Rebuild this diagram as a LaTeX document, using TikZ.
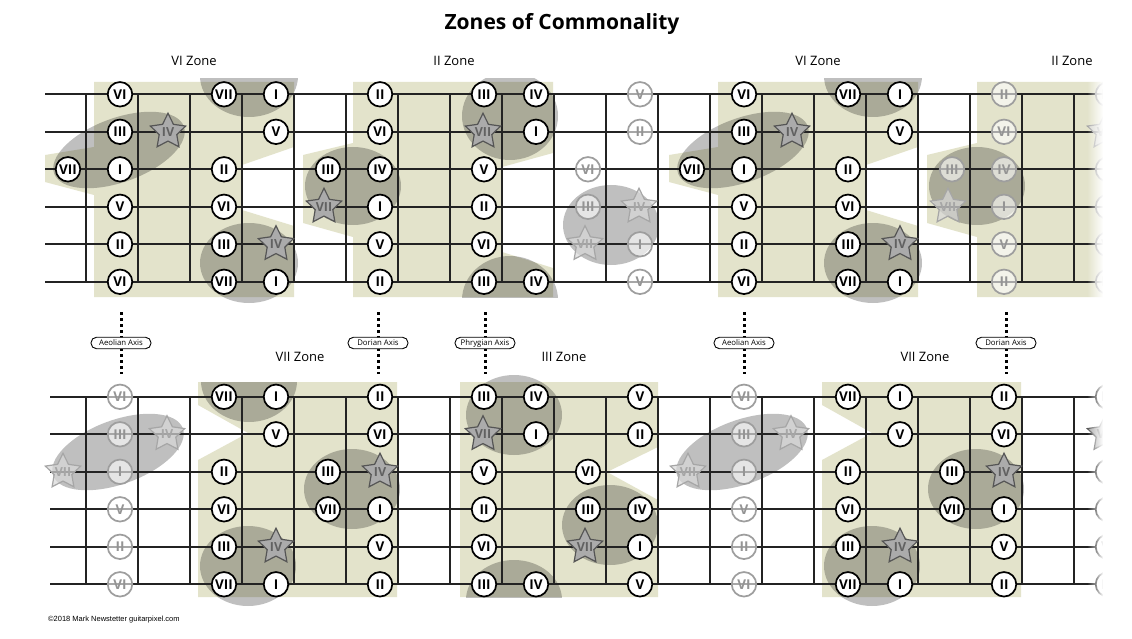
\documentclass[tikz,border=0pt]{standalone}
\usepackage{fontspec}
\setmainfont{Open Sans}
\newfontfamily\copyfont{Liberation Sans}
\usetikzlibrary{shapes.geometric}
\definecolor{zonebg}{HTML}{E3E3CB}
\definecolor{gridc}{HTML}{232323}
\definecolor{starfill}{HTML}{ABABAB}
\definecolor{staredge}{HTML}{555555}
\begin{document}
\begin{tikzpicture}[x=1pt,y=-1pt,
  nt/.style={circle,draw=black,line width=1.7pt,fill=white,minimum size=24.5pt,inner sep=0pt,
    font=\bfseries\fontsize{13.5}{13.5}\selectfont},
  ft/.style={nt,draw=black!38,text=black!42,fill opacity=0.6,text opacity=1,draw opacity=1},
  st/.style={star,star points=5,star point ratio=2.0,draw=staredge,line width=1.2pt,fill=starfill,minimum size=37pt,inner sep=0pt},
  fst/.style={st,draw=black!35,fill=black!15,fill opacity=0.7,draw opacity=1},
  stt/.style={inner sep=0pt,text=black!62,font=\bfseries\fontsize{12.5}{12.5}\selectfont},
  fstt/.style={stt,text=black!35},
  zone/.style={fill=zonebg},
  blob/.style={fill=black,fill opacity=0.25},
  grid/.style={draw=gridc,line width=1.7pt},
  zlabel/.style={font=\fontsize{13}{13}\selectfont},
  axisbox/.style={draw=black,rounded corners=5.5pt,fill=white,line width=0.9pt,minimum width=60pt,minimum height=11.5pt,inner sep=0.8pt,font=\fontsize{7.8}{7.8}\selectfont},
  axisline/.style={line width=3pt,dash pattern=on 3pt off 3pt}
]
\useasboundingbox (0,0) rectangle (1132,639);
\fill[white] (0,0) rectangle (1132,639);

% title and footer
\node (title) at (562,24) {\bfseries\fontsize{21}{21}\selectfont Zones of Commonality};
\node[anchor=west,inner sep=0pt] (copy) at (48,620) {\copyfont\fontsize{7.5}{7.5}\selectfont ©2018 Mark Newstetter guitarpixel.com};

% zones
\foreach \dx in {0,624}{
  \fill[zone,shift={(\dx,0)}] (94,82) -- (294,82) -- (294,147) -- (242,165) -- (242,210) -- (294,226) -- (294,297) -- (94,297) -- (94,195) -- (45,182) -- (45,155) -- (94,147) -- cycle;
  \fill[zone,shift={(\dx,0)}] (353,82) -- (553,82) -- (553,153) -- (502,167) -- (502,252) -- (553,268) -- (553,297) -- (353,297) -- (353,237) -- (303,223) -- (303,155) -- (353,143) -- cycle;
  \fill[zone,shift={(\dx,0)}] (198,382) -- (397,382) -- (397,597) -- (198,597) -- (198,460) -- (248,433) -- (198,405) -- cycle;
}
\fill[zone] (460,382) -- (658,382) -- (658,447) -- (607,472) -- (658,500) -- (658,597) -- (460,597) -- cycle;

% zone labels
\node[zlabel] (zl1) at (194,61) {VI Zone};
\node[zlabel] (zl2) at (454,61) {II Zone};
\node[zlabel] (zl3) at (818,61) {VI Zone};
\node[zlabel] (zl4) at (1072,61) {II Zone};
\node[zlabel] (zl5) at (300,357) {VII Zone};
\node[zlabel] (zl6) at (564,357) {III Zone};
\node[zlabel] (zl7) at (925,357) {VII Zone};

% grey blobs top
\begin{scope}
\clip (0,79) rectangle (1132,306);
\foreach \dx in {0,624}{
  \fill[blob,rotate around={20:({119+\dx},150)}] ({119+\dx},150) ellipse [x radius=69,y radius=32];
  \fill[blob] ({249+\dx},76) ellipse [x radius=49,y radius=41];
  \fill[blob] ({249+\dx},263) ellipse [x radius=49,y radius=40];
  \fill[blob] ({353+\dx},186) ellipse [x radius=48,y radius=39];
}
\fill[blob] (510,116) ellipse [x radius=48,y radius=44];
\fill[blob] (611,225) ellipse [x radius=48,y radius=40];
\end{scope}
\begin{scope}
\clip (0,79) rectangle (1132,297);
\fill[blob] (510,300) ellipse [x radius=48,y radius=44];
\end{scope}
% grey blobs bottom
\begin{scope}
\clip (0,370) rectangle (1132,612);
\foreach \dx in {0,624}{
  \fill[blob,rotate around={20:({118+\dx},452)}] ({118+\dx},452) ellipse [x radius=69,y radius=32];
  \fill[blob] ({248+\dx},566) ellipse [x radius=48,y radius=40];
  \fill[blob] ({352+\dx},489) ellipse [x radius=48,y radius=40];
}
\fill[blob] (514,415) ellipse [x radius=48,y radius=40];
\fill[blob] (610,525) ellipse [x radius=48,y radius=40];
\end{scope}
\begin{scope}
\clip (0,382) rectangle (1132,597);
\fill[blob] (249,381) ellipse [x radius=48,y radius=41];
\fill[blob] (514,600) ellipse [x radius=48,y radius=40];
\end{scope}

% strings and frets
\foreach \r in {0,...,5}{
  \draw[grid] (45,{94.3+37.5*\r}) -- (1110,{94.3+37.5*\r});
  \draw[grid] (50,{396.8+37.5*\r}) -- (1110,{396.8+37.5*\r});
}
\foreach \k in {0,...,19}{
  \draw[grid] ({86+52*\k},94.3) -- ({86+52*\k},281.8);
  \draw[grid] ({86+52*\k},396.8) -- ({86+52*\k},584.3);
}

% axes
\foreach \x/\lab/\n in {121/Aeolian Axis/axa,378/Dorian Axis/axb,485/Phrygian Axis/axc,744/Aeolian Axis/axd,1006/Dorian Axis/axe}{
  \coordinate (\n t) at (\x,312);
  \coordinate (\n b) at (\x,374);
  \draw[axisline] (\n t) -- (\n b);
  \node[axisbox] (\n) at (\x,343) {\lab};
}

% top circles
\foreach \c/\r/\t/\k in {0/2/VII/nt,
 1/0/VI/nt,1/1/III/nt,1/2/I/nt,1/3/V/nt,1/4/II/nt,1/5/VI/nt,
 3/0/VII/nt,3/2/II/nt,3/3/VI/nt,3/4/III/nt,3/5/VII/nt,
 4/0/I/nt,4/1/V/nt,4/5/I/nt,
 5/2/III/nt,
 6/0/II/nt,6/1/VI/nt,6/2/IV/nt,6/3/I/nt,6/4/V/nt,6/5/II/nt,
 8/0/III/nt,8/2/V/nt,8/3/II/nt,8/4/VI/nt,8/5/III/nt,
 9/0/IV/nt,9/1/I/nt,9/5/IV/nt,
 10/2/VI/ft,10/3/III/ft,
 11/0/V/ft,11/1/II/ft,11/4/I/ft,11/5/V/ft,
 12/2/VII/nt,
 13/0/VI/nt,13/1/III/nt,13/2/I/nt,13/3/V/nt,13/4/II/nt,13/5/VI/nt,
 15/0/VII/nt,15/2/II/nt,15/3/VI/nt,15/4/III/nt,15/5/VII/nt,
 16/0/I/nt,16/1/V/nt,16/5/I/nt,
 17/2/III/ft,
 18/0/II/ft,18/1/VI/ft,18/2/IV/ft,18/3/I/ft,18/4/V/ft,18/5/II/ft,
 20/0/III/ft,20/2/V/ft,20/3/II/ft,20/4/VI/ft,20/5/III/ft}{
  \node[\k] (t\c-\r) at ({68+52*\c},{94.3+37.5*\r}) {\t};
}
% top stars
\foreach \c/\r/\t/\d/\k/\kt in {2/1/IV/-4/st/stt,4/4/IV/0/st/stt,5/3/VII/-4/st/stt,8/1/VII/-1/st/stt,
 10/4/VII/-3/fst/fstt,11/3/IV/-1/fst/fstt,14/1/IV/-4/st/stt,16/4/IV/0/st/stt,17/3/VII/-4/fst/fstt,20/1/VII/-3/fst/fstt}{
  \node[\k] (ts\c-\r) at ({68+52*\c+\d},{94.3+37.5*\r}) {};
  \node[\kt] (tt\c-\r) at (ts\c-\r.center) {\t};
}

% bottom circles
\foreach \c/\r/\t/\k in {
 1/0/VI/ft,1/1/III/ft,1/2/I/ft,1/3/V/ft,1/4/II/ft,1/5/VI/ft,
 3/0/VII/nt,3/2/II/nt,3/3/VI/nt,3/4/III/nt,3/5/VII/nt,
 4/0/I/nt,4/1/V/nt,4/5/I/nt,
 5/2/III/nt,5/3/VII/nt,
 6/0/II/nt,6/1/VI/nt,6/3/I/nt,6/4/V/nt,6/5/II/nt,
 8/0/III/nt,8/2/V/nt,8/3/II/nt,8/4/VI/nt,8/5/III/nt,
 9/0/IV/nt,9/1/I/nt,9/5/IV/nt,
 10/2/VI/nt,10/3/III/nt,
 11/0/V/nt,11/1/II/nt,11/3/IV/nt,11/4/I/nt,11/5/V/nt,
 13/0/VI/ft,13/1/III/ft,13/2/I/ft,13/3/V/ft,13/4/II/ft,13/5/VI/ft,
 15/0/VII/nt,15/2/II/nt,15/3/VI/nt,15/4/III/nt,15/5/VII/nt,
 16/0/I/nt,16/1/V/nt,16/5/I/nt,
 17/2/III/nt,17/3/VII/nt,
 18/0/II/nt,18/1/VI/nt,18/3/I/nt,18/4/V/nt,18/5/II/nt,
 20/0/III/nt,20/2/V/nt,20/3/II/nt,20/4/VI/nt,20/5/III/nt}{
  \node[\k] (b\c-\r) at ({68+52*\c},{396.8+37.5*\r}) {\t};
}
% bottom stars
\foreach \c/\r/\t/\d/\k/\kt in {0/2/VII/-5/fst/fstt,2/1/IV/-5/fst/fstt,4/4/IV/0/st/stt,6/2/IV/0/st/stt,
 8/1/VII/-1/st/stt,10/4/VII/-3/st/stt,12/2/VII/-4/fst/fstt,14/1/IV/-5/fst/fstt,16/4/IV/0/st/stt,
 18/2/IV/0/st/stt,20/1/VII/-3/st/stt}{
  \node[\k] (bs\c-\r) at ({68+52*\c+\d},{396.8+37.5*\r}) {};
  \node[\kt] (bt\c-\r) at (bs\c-\r.center) {\t};
}

% right-hand fade
\foreach \i [evaluate=\i as \op using (\i+1)/16] in {0,...,15}{
  \fill[white,opacity=\op] ({1088+\i},75) rectangle ({1089.2+\i},612);
}
\fill[white] (1104,75) rectangle (1132,612);
\end{tikzpicture}
\end{document}
